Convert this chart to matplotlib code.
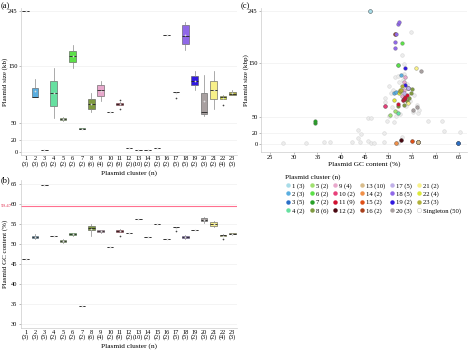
import matplotlib
matplotlib.use("Agg")
import matplotlib.pyplot as plt
from matplotlib.lines import Line2D
from matplotlib import transforms

plt.rcParams['font.family'] = ['Liberation Serif', 'DejaVu Serif']

clusters = list(range(1, 24))
cluster_n = [3, 3, 5, 2, 2, 2, 2, 6, 4, 2, 9, 2, 10, 2, 2, 2, 5, 5, 2, 3, 2, 4, 3]

sizes = [
    [245, 245, 245], [95, 96, 127], [3, 3, 3, 3, 3], [58, 145], [53, 61],
    [146, 186], [39, 42], [70, 72, 80, 85, 95, 102], [88, 100, 114, 124],
    [70, 70], [74, 81, 82, 83, 83, 84, 85, 86, 90], [7, 7], [3.5] * 10,
    [3, 3], [6, 6], [203, 203], [94, 104, 104, 104, 104],
    [177, 188, 202, 221, 225], [108, 140], [62, 69, 134], [75, 140],
    [81, 95, 97, 99], [98, 100, 107],
]

gcs = [
    [46.2, 46.2, 46.2], [51.2, 51.7, 52.6], [64.8] * 5, [52.0, 52.0],
    [50.3, 51.3], [52.1, 52.9], [34.5, 34.5], [52.0, 53.4, 54.0, 54.3, 54.7, 55.0],
    [52.9, 53.2, 53.4, 53.6], [49.2, 49.2],
    [52.0, 53.0, 53.1, 53.2, 53.3, 53.3, 53.5, 53.6, 53.9], [52.7, 52.7],
    [56.3] * 10, [51.7, 51.7], [55.0, 55.0], [51.3, 51.3],
    [53.3, 54.2, 54.2, 54.2, 54.2], [51.3, 51.5, 51.7, 52.0, 52.2],
    [53.5, 53.5], [55.3, 56.1, 56.8], [54.2, 55.9], [51.2, 52.3, 52.4, 52.5],
    [52.4, 52.6, 52.8],
]

cluster_colors = ['#a8dce8', '#5aaee0', '#2a6fc8', '#66e0a0', '#a0e070', '#5ce048',
                  '#28a028', '#7f9a40', '#e8a8cc', '#e8407a', '#d01030', '#4a0810',
                  '#d8bc8c', '#f09048', '#e05018', '#a8401c', '#c0b0e8', '#9068e8',
                  '#3018e0', '#a8a0a0', '#f8f088', '#dce838', '#b0b038']

singleton_gc = [27.8, 32.5, 36.3, 37.7, 42.3, 43.5, 43.5, 44.3, 44.0, 45.6, 46.3, 46.9,
                49.0, 49.0, 45.7, 46.4, 49.2, 50.2, 49.8, 50.2, 51.1, 51.6, 52.8, 53.4,
                54.8, 51.5, 52.0, 52.9, 55.2, 56.2, 56.5, 58.4, 61.3, 61.7, 65.2, 49.3,
                50.5, 51.0, 52.3, 53.0, 54.0, 55.5, 56.0, 53.8, 51.8, 52.5, 54.5, 50.8,
                53.2, 52.0]
singleton_size = [3, 2, 4, 4, 4, 26, 12, 18, 4, 5, 3, 3, 4, 21, 48, 48, 78, 107, 43, 51,
                  40, 51, 164, 148, 206, 123, 125, 14, 60, 57, 62, 43, 42, 24, 23, 85,
                  95, 100, 115, 118, 110, 90, 72, 70, 60, 55, 80, 68, 130, 2]

size_ticks = [0, 20, 50, 150, 245]
gc_ticks = [30, 35, 40, 45, 50, 55, 60, 65]
gc_x_ticks = [25, 30, 35, 40, 45, 50, 55, 60, 65]
gc_reference = 59.47

xtick_labels = [f"{c}\n({n})" for c, n in zip(clusters, cluster_n)]

fig = plt.figure(figsize=(4.74, 3.5), dpi=100)
FS = 4.6
LFS = 5.0
spine_col = '#cccccc'


def style(ax):
    for s in ['top', 'right']:
        ax.spines[s].set_visible(False)
    for s in ['left', 'bottom']:
        ax.spines[s].set_color(spine_col)
        ax.spines[s].set_linewidth(0.5)
    ax.tick_params(labelsize=FS, length=1.5, width=0.4, color='#888888', pad=1)
    ax.yaxis.grid(True, color='#f0f0f0', linewidth=0.5)
    ax.set_axisbelow(True)


def boxes(ax, data):
    bp = ax.boxplot(data, positions=clusters, widths=0.7, patch_artist=True,
                    showmeans=True,
                    medianprops=dict(color='#222222', linewidth=0.6),
                    whiskerprops=dict(color='#888888', linewidth=0.5),
                    capprops=dict(linewidth=0),
                    boxprops=dict(edgecolor='#555555', linewidth=0.4),
                    flierprops=dict(marker='o', markersize=1.2, markerfacecolor='#444444',
                                    markeredgecolor='none'),
                    meanprops=dict(marker='o', markersize=1.3, markerfacecolor='#dddddd',
                                   markeredgecolor='none'))
    for patch, col in zip(bp['boxes'], cluster_colors):
        patch.set_facecolor(col)
    ax.set_xticks(clusters)
    ax.set_xticklabels(xtick_labels, linespacing=0.95)
    ax.set_xlim(0.5, 23.5)
    ax.tick_params(axis='x', length=0)


# Panel a
axa = fig.add_axes([0.044, 0.558, 0.456, 0.419])
style(axa)
boxes(axa, sizes)
axa.set_ylim(-5, 250)
axa.set_yticks(size_ticks)
axa.set_ylabel('Plasmid size (kb)', fontsize=LFS)
axa.yaxis.set_label_coords(-0.058, 0.5)
axa.set_xlabel('Plasmid cluster (n)', fontsize=LFS + 0.3)
axa.xaxis.set_label_coords(0.5, -0.108)
fig.text(0.002, 0.995, '(a)', fontsize=6, va='top')

# Panel b
axb = fig.add_axes([0.044, 0.062, 0.456, 0.423])
style(axb)
boxes(axb, gcs)
axb.set_ylim(29, 66)
axb.set_yticks(gc_ticks)
axb.axhline(gc_reference, color='#ff7090', linewidth=0.8, zorder=0)
blend = transforms.blended_transform_factory(fig.transFigure, axb.transData)
axb.text(0.001, gc_reference, f"{gc_reference}", color='#e03050', fontsize=3.6,
         ha='left', va='center', transform=blend)
axb.set_ylabel('Plasmid GC content (%)', fontsize=LFS)
axb.yaxis.set_label_coords(-0.058, 0.5)
axb.set_xlabel('Plasmid cluster (n)', fontsize=LFS + 0.3)
axb.xaxis.set_label_coords(0.5, -0.098)
fig.text(0.002, 0.497, '(b)', fontsize=6, va='top')

# Panel c
axc = fig.add_axes([0.551, 0.567, 0.435, 0.41])
style(axc)
axc.scatter(singleton_gc, singleton_size, s=7, facecolor='#ececec', edgecolor='#cfcfcf',
            linewidth=0.3, zorder=2)
for col, g, sz in zip(cluster_colors, gcs, sizes):
    axc.scatter(g, sz, s=7, color=col, edgecolor='#555555', linewidth=0.2, zorder=3)
axc.set_xlim(23.1, 66.7)
axc.set_ylim(-13.6, 250.5)
axc.set_xticks(gc_x_ticks)
axc.set_yticks(size_ticks)
axc.set_ylabel('Plasmid size (kbp)', fontsize=LFS)
axc.yaxis.set_label_coords(-0.058, 0.5)
axc.set_xlabel('Plasmid GC content (%)', fontsize=LFS + 0.3, labelpad=1)
fig.text(0.508, 0.995, '(c)', fontsize=6, va='top')

handles = [Line2D([], [], marker='o', linestyle='none', markersize=3.2,
                  markerfacecolor=col, markeredgecolor='none') for col in cluster_colors]
labels = [f"{c} ({n})" for c, n in zip(clusters, cluster_n)]
handles.append(Line2D([], [], marker='o', linestyle='none', markersize=3.2,
                      markerfacecolor='white', markeredgecolor='#cccccc', markeredgewidth=0.4))
labels.append('Singleton (50)')
leg = fig.legend(handles, labels, ncol=6, loc='upper left', bbox_to_anchor=(0.591, 0.515),
                 frameon=False, fontsize=4.8, title='Plasmid cluster (n)',
                 title_fontsize=5.2, alignment='left', handletextpad=0.1,
                 columnspacing=0.55, labelspacing=0.35, borderpad=0.2, handlelength=1.0)

fig.savefig('out.png', dpi=100)
